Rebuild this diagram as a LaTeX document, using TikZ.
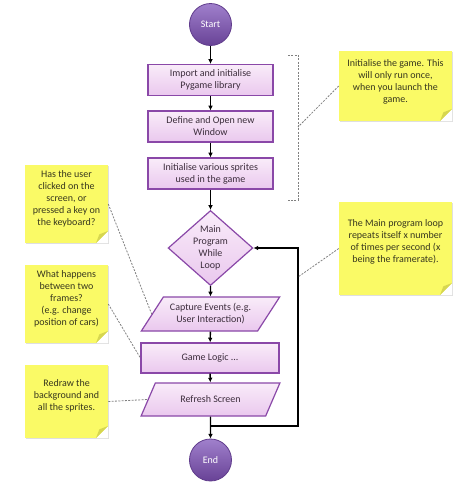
\documentclass[tikz,border=0pt]{standalone}
\usepackage{fontspec}
\setmainfont{Carlito}
\usetikzlibrary{shapes.geometric,arrows.meta,shadows}

\definecolor{boxline}{RGB}{138,72,168}
\definecolor{boxtop}{RGB}{249,236,249}
\definecolor{boxbot}{RGB}{234,200,238}
\definecolor{boxtext}{RGB}{60,45,60}
\definecolor{balltop}{RGB}{160,128,204}
\definecolor{ballbot}{RGB}{104,66,150}
\definecolor{ballline}{RGB}{96,60,140}
\definecolor{noteyellow}{RGB}{250,250,102}
\definecolor{notefold}{RGB}{214,214,80}
\definecolor{notetext}{RGB}{55,55,30}

\begin{document}
\begin{tikzpicture}[x=0.75pt,y=-0.75pt,
    flow/.style={line width=1.1pt,-{Latex[length=3.5pt,width=3.5pt]}},
    hint/.style={gray,line width=0.6pt,dash pattern=on 1.5pt off 1pt},
    ball/.style={circle,draw=ballline,line width=0.6pt,top color=balltop,bottom color=ballbot,
        text=white,minimum size=31.5pt,inner sep=0pt,font=\fontsize{7.5}{9}\selectfont},
    box/.style={rectangle,draw=boxline,line width=0.9pt,top color=boxtop,bottom color=boxbot,
        text=boxtext,align=center,inner sep=1pt,font=\fontsize{7.5}{9}\selectfont,
        minimum width=93.75pt,minimum height=23.25pt},
    io/.style={box,trapezium,trapezium left angle=50,trapezium right angle=130,
        trapezium stretches=true,minimum width=104.25pt,minimum height=25.5pt},
    notebox/.style={rectangle,fill=noteyellow,inner sep=0pt,
        drop shadow={opacity=0.25,shadow xshift=0.8pt,shadow yshift=-1pt},
        path picture={
            \fill[white] ([xshift=-9pt]path picture bounding box.south east)
                -- (path picture bounding box.south east)
                -- ([yshift=9pt]path picture bounding box.south east) -- cycle;
            \fill[notefold] ([xshift=-9pt]path picture bounding box.south east)
                -- ([yshift=9pt]path picture bounding box.south east)
                -- ([xshift=-6.5pt,yshift=6.5pt]path picture bounding box.south east) -- cycle;
        }},
    notetxt/.style={text=notetext,align=center,font=\fontsize{7.5}{9}\selectfont}
]
\useasboundingbox (0,0) rectangle (474,490);

% Flow chart down the middle
\node[ball] (start) at (210.5,24.5) {Start};
\node[box] (imp) at (210.5,80) {Import and initialise\\Pygame library};
\node[box] (win) at (210.5,126.5) {Define and Open new\\Window};
\node[box] (spr) at (210.5,173.5) {Initialise various sprites\\used in the game};
\node[box,diamond,aspect=1.13,inner sep=0pt,minimum width=63pt,minimum height=55.5pt]
    (loop) at (210.5,248) {Main\\Program\\While\\Loop};
\node[io] (cap) at (210.5,314) {Capture Events (e.g.\\User Interaction)};
\node[box,minimum width=103.5pt,minimum height=22.5pt] (logic) at (210,358) {Game Logic ...};
\node[io,minimum height=24.75pt] (refresh) at (210.5,399.5) {Refresh Screen};
\node[ball] (stop) at (210.5,460) {End};

\foreach \a/\b in {start/imp,imp/win,win/spr,spr/loop,loop/cap,cap/logic,logic/refresh,refresh/stop}
    \draw[flow] (\a) -- (\b);

% Loop back to the diamond
\coordinate (split) at (210.5,426);
\coordinate (back) at (298,426);
\draw[flow] (split) -- (back) |- (loop.east);

% Notes
\node[notebox,minimum width=84.75pt,minimum height=52.5pt,
    label={[notetxt,name=n1t,yshift=3pt]center:{Initialise the game. This\\will only run once,\\when you launch the\\game.}}]
    (n1) at (395.5,86) {};
\node[notebox,minimum width=84.75pt,minimum height=69.75pt,
    label={[notetxt,name=n2t,yshift=5pt]center:{The Main program loop\\repeats itself x number\\of times per second (x\\being the framerate).}}]
    (n2) at (395.5,248.5) {};
\node[notebox,minimum width=62.25pt,minimum height=58.5pt,
    label={[notetxt,name=nAt,yshift=4pt]center:{Has the user\\clicked on the\\screen, or\\pressed a key on\\the keyboard?}}]
    (nA) at (66.5,204) {};
\node[notebox,minimum width=62.25pt,minimum height=58.5pt,
    label={[notetxt,name=nBt,yshift=4pt]center:{What happens\\between two\\frames?\\(e.g. change\\position of cars)}}]
    (nB) at (66.5,304) {};
\node[notebox,minimum width=62.25pt,minimum height=54.75pt,
    label={[notetxt,name=nCt,yshift=4pt]center:{Redraw the\\background and\\all the sprites.}}]
    (nC) at (66.5,401.5) {};

% Bracket round the set-up steps
\draw[hint] (288,55) -- (298,55) -- (298,200) -- (288,200);
\coordinate (bmid) at (298,127);
\coordinate (lmid) at (298,277);

\draw[hint] (n1.west) -- (bmid);
\draw[hint] (n2.west) -- (lmid);
\draw[hint] (nA.east) -- (cap.west);
\draw[hint] (nB.east) -- (logic.west);
\draw[hint] (nC.east) -- (refresh.west);

\end{tikzpicture}
\end{document}
